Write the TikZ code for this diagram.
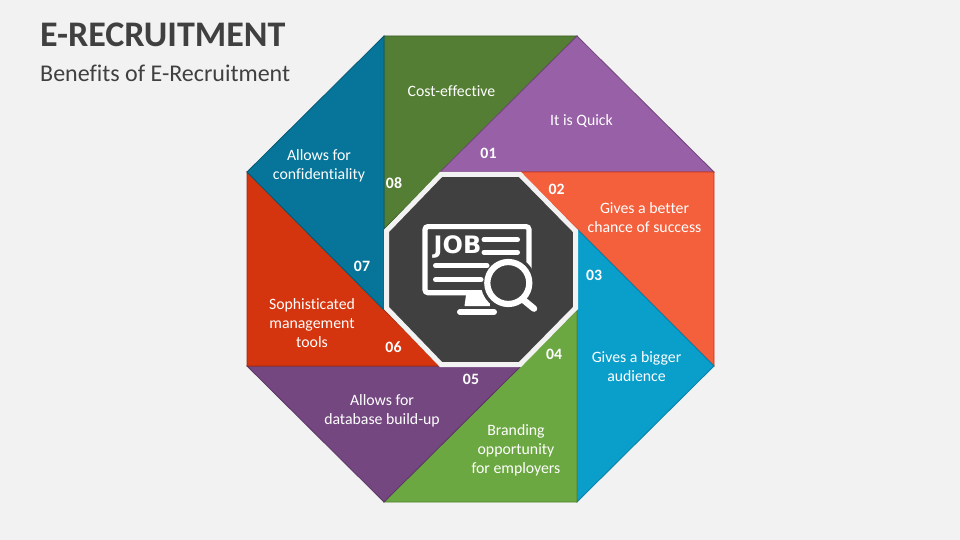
\documentclass[tikz,border=0pt]{standalone}
\usepackage{fontspec}
\setmainfont[Ligatures=CommonOff]{Carlito}
\newfontfamily\jobfont{DejaVu Sans}
\definecolor{bgc}{HTML}{F2F2F2}
\definecolor{ink}{HTML}{404040}
\definecolor{cA}{HTML}{9860A6}
\definecolor{cAd}{HTML}{6F4679}
\definecolor{cB}{HTML}{F45F3C}
\definecolor{cBd}{HTML}{C9341A}
\definecolor{cC}{HTML}{0A9ECB}
\definecolor{cCd}{HTML}{0A7EA4}
\definecolor{cD}{HTML}{6CA842}
\definecolor{cDd}{HTML}{4F8030}
\definecolor{cE}{HTML}{744781}
\definecolor{cEd}{HTML}{5B3666}
\definecolor{cF}{HTML}{D4340E}
\definecolor{cFd}{HTML}{9C2A10}
\definecolor{cG}{HTML}{067599}
\definecolor{cGd}{HTML}{055A76}
\definecolor{cH}{HTML}{547E34}
\definecolor{cHd}{HTML}{3C5C25}
\tikzset{
  wedge/.style={line width=0.8pt,line join=miter},
  lab/.style={text=white,font=\fontsize{15.8}{19}\selectfont,align=center,inner sep=0pt},
  num/.style={text=white,font=\fontsize{15.8}{16}\selectfont\bfseries,inner sep=0pt},
  iconline/.style={draw=white,line width=5pt,line cap=round}
}
\begin{document}
\begin{tikzpicture}[x=1pt,y=-1pt]
\useasboundingbox (0,0) rectangle (960,540);
\fill[bgc] (0,0) rectangle (960,540);
\node[anchor=west,inner sep=0pt,text=ink,font=\fontsize{36}{40}\selectfont\bfseries] (title) at (40,34.5) {E-RECRUITMENT};
\node[anchor=west,inner sep=0pt,text=ink,font=\fontsize{24}{28}\selectfont] (sub) at (40,73) {Benefits of E-Recruitment};
% wedges
\filldraw[wedge,fill=cH,draw=cHd] (384,36) -- (577,36) -- (384,229) -- cycle;
\filldraw[wedge,fill=cA,draw=cAd] (577,36) -- (714,172) -- (440,172) -- cycle;
\filldraw[wedge,fill=cB,draw=cBd] (714,172) -- (714,366) -- (520,172) -- cycle;
\filldraw[wedge,fill=cC,draw=cCd] (714,366) -- (577,502) -- (577,229) -- cycle;
\filldraw[wedge,fill=cD,draw=cDd] (577,502) -- (384,502) -- (577,310) -- cycle;
\filldraw[wedge,fill=cE,draw=cEd] (384,502) -- (247,366) -- (521,366) -- cycle;
\filldraw[wedge,fill=cF,draw=cFd] (247,366) -- (247,172) -- (440,366) -- cycle;
\filldraw[wedge,fill=cG,draw=cGd] (247,172) -- (384,36) -- (384,310) -- cycle;
% centre octagon
\filldraw[fill=ink,draw=bgc,line width=5pt,line join=miter] (441,174.5) -- (520,174.5) -- (575.5,231) -- (575.5,308) -- (520,364.5) -- (441,364.5) -- (386.5,308) -- (386.5,231) -- cycle;
% icon
\draw[white,line width=5.2pt,rounded corners=3pt] (425,226.6) rectangle (529,292.7);
\fill[white] (466,295) -- (489,295) -- (490,306) -- (464.5,306) -- cycle;
\fill[ink] (508.3,283) circle (27.5);
\draw[white,line width=6.2pt] (508.3,283) circle (21);
\draw[white,line width=6.5pt,line cap=round] (523.5,300) -- (534,308.6);
\draw[iconline,line width=6pt] (460,312) -- (494,312);
\node[inner sep=0pt,text=white,font=\fontsize{24}{24}\selectfont\jobfont\bfseries] (job) at (457.5,246.5) {JOB};
\draw[iconline] (484,239.7) -- (517.5,239.7);
\draw[iconline] (484,252.3) -- (517.5,252.3);
\draw[iconline] (435.5,265.7) -- (487,265.7);
\draw[iconline] (435.5,279.7) -- (481,279.7);
% labels
\node[lab] (l1) at (581.5,121.5) {It is Quick};
\node[lab] (l2) at (644.5,217.5) {Gives a better\\chance of success};
\node[lab] (l3) at (636.5,366.5) {Gives a bigger\\audience};
\node[lab] (l4) at (516,450) {Branding\\opportunity\\for employers};
\node[lab] (l5) at (382,410.5) {Allows for\\database build-up};
\node[lab] (l6) at (312,323) {Sophisticated\\management\\tools};
\node[lab] (l7) at (319,165.5) {Allows for\\confidentiality};
\node[lab] (l8) at (451.5,91.5) {Cost-effective};
\node[num] (n1) at (488.5,153) {01};
\node[num] (n2) at (556.5,189) {02};
\node[num] (n3) at (594,275) {03};
\node[num] (n4) at (554,354) {04};
\node[num] (n5) at (471,379.5) {05};
\node[num] (n6) at (393.5,347) {06};
\node[num] (n7) at (362,266) {07};
\node[num] (n8) at (394,183) {08};
\end{tikzpicture}
\end{document}
